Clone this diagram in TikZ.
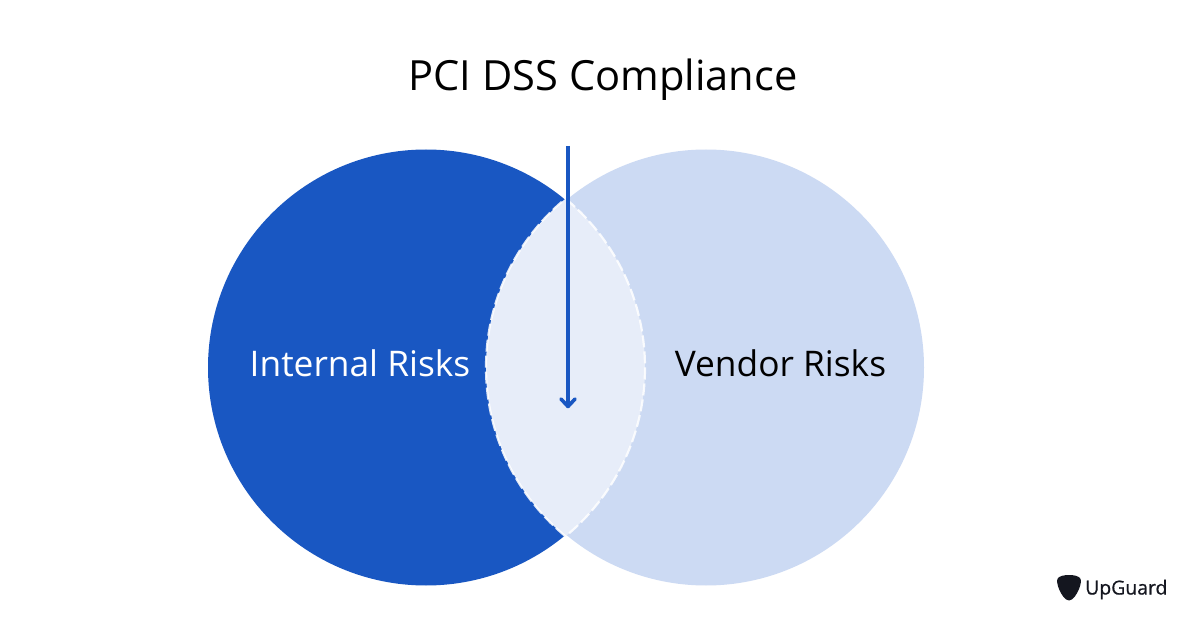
\documentclass[tikz,border=0pt]{standalone}
\usepackage{fontspec}
\setmainfont{Open Sans}
\newfontfamily\brandfont[FakeBold=0.6]{Open Sans}
\definecolor{upblue}{HTML}{1957C2}
\definecolor{uplight}{HTML}{CCDAF3}
\definecolor{uplens}{HTML}{E7EDF9}
\definecolor{updark}{HTML}{14161F}
\tikzset{
  venn/.style={circle,minimum size=2*218pt,inner sep=0pt,outer sep=0pt},
  lbl/.style={inner sep=0pt,font=\fontsize{35.3}{40}\selectfont},
  lensedge/.style={draw=white,draw opacity=0.85,line width=2.2pt,dash pattern=on 12pt off 4pt},
  arrowline/.style={draw=upblue,line width=3.6pt}
}
\begin{document}
\begin{tikzpicture}[x=1pt,y=-1pt]
\useasboundingbox (0,0) rectangle (1200,628);
\fill[white] (0,0) rectangle (1200,628);
\node[venn,fill=upblue] (left) at (426,367.5) {};
\node[venn,fill=uplight] (right) at (706,367.5) {};
\begin{scope}
  \clip (426,367.5) circle (219);
  \fill[uplens] (705,367.5) circle (219);
  \draw[lensedge] (705,367.5) circle (219);
\end{scope}
\begin{scope}
  \clip (705,367.5) circle (219);
  \draw[lensedge] (426,367.5) circle (219);
\end{scope}
\node[lbl,text=black] (title) at (603,80) {\fontsize{41.6}{46}\selectfont PCI DSS Compliance};
\node[lbl,text=white] (internal) at (360,363) {Internal Risks};
\node[lbl,text=black] (vendor) at (780.5,363) {Vendor Risks};
\coordinate (astart) at (568,146);
\coordinate (aend) at (568,406);
\draw[arrowline] (astart) -- (aend);
\draw[arrowline,line cap=round,line join=round] (561,399) -- (568,406.5) -- (575,399);
\fill[updark] (1069,575) .. controls (1064,575) and (1060,576) .. (1058,578)
  .. controls (1056.5,580) and (1057,584) .. (1059,589)
  .. controls (1061,594) and (1065,600.5) .. (1069,600.5)
  .. controls (1073,600.5) and (1077,594) .. (1079,589)
  .. controls (1081,584) and (1081.5,580) .. (1080,578)
  .. controls (1078,576) and (1074,575) .. (1069,575) -- cycle;
\node[inner sep=0pt,anchor=west,text=updark,font=\fontsize{19.4}{24}\brandfont] (brand) at (1085,589.5) {UpGuard};
\end{tikzpicture}
\end{document}
